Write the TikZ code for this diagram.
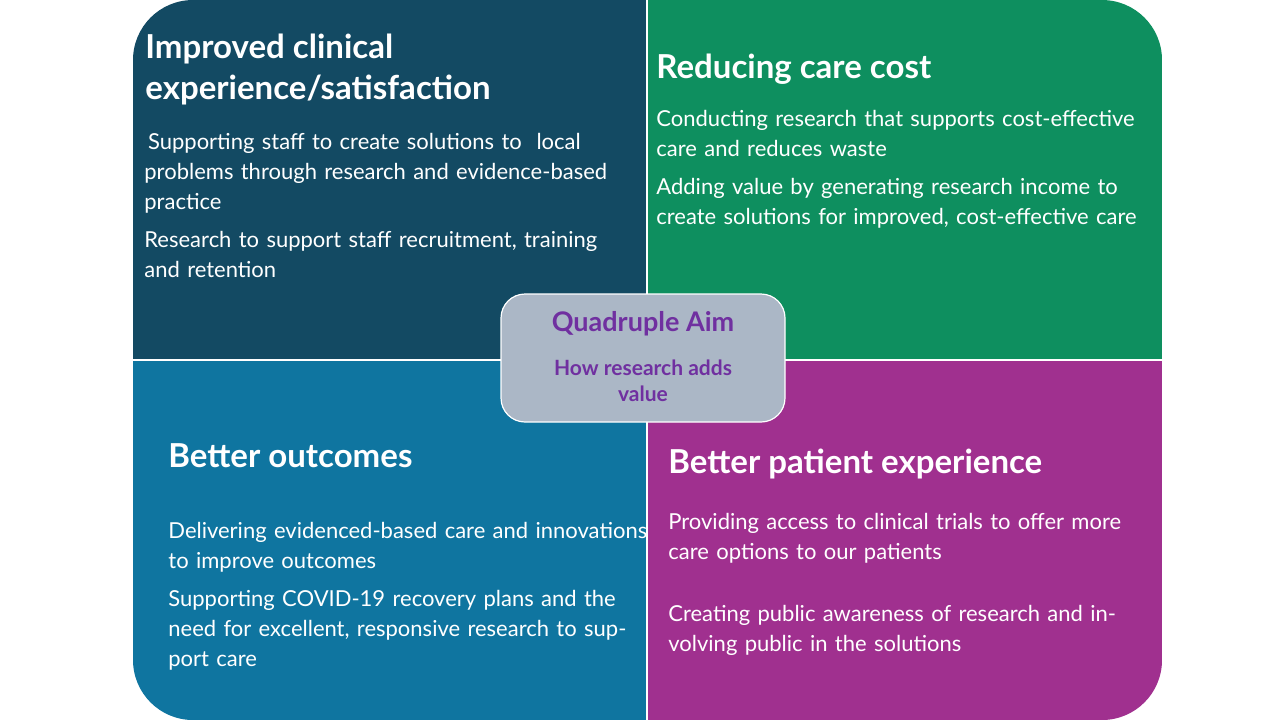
\documentclass[tikz,border=0pt]{standalone}
\usepackage{fontspec}
\setmainfont{Lato}
\begin{document}
\begin{tikzpicture}[x=0.5pt,y=-0.5pt,
  hd/.style={anchor=north west,text=white,font=\fontsize{16.5}{20.5}\selectfont\bfseries,align=left,inner sep=0pt},
  bd/.style={anchor=north west,text=white,font=\fontsize{11}{15}\selectfont,align=left,inner sep=0pt,text width=#1},
  bd/.default=245pt]
\definecolor{cTL}{HTML}{134A63}
\definecolor{cTR}{HTML}{0E8F5F}
\definecolor{cBL}{HTML}{0F75A0}
\definecolor{cBR}{HTML}{A0308F}
\definecolor{cC}{HTML}{ABB7C6}
\definecolor{cP}{HTML}{7030A0}
\useasboundingbox (0,0) rectangle (1280,720);
\begin{scope}
\clip[rounded corners=30pt] (133,0) rectangle (1162,720);
\fill[cTL] (133,0) rectangle (646,359);
\fill[cTR] (648,0) rectangle (1162,359);
\fill[cBL] (133,361) rectangle (646,720);
\fill[cBR] (648,361) rectangle (1162,720);
\end{scope}
\node[hd] (h1) at (145,34) {Improved clinical\\experience/satisfaction};
\node[bd] (b1) at (144,133) {\,Supporting staff to create solutions to \ local problems through research and evidence-based practice\\[4pt]Research to support staff recruitment, training and retention};
\node[hd] (h2) at (656,54) {Reducing care cost};
\node[bd] (b2) at (656,110) {Conducting research that supports cost-effective care and reduces waste\\[4pt]Adding value by generating research income to create solutions for improved, cost-effective care};
\node[hd] (h3) at (168,443) {Better outcomes};
\node[bd] (b3) at (168,522) {Delivering evidenced-based care and innovations to improve outcomes\\[4pt]Supporting COVID-19 recovery plans and the need for excellent, responsive research to support care};
\node[hd] (h4) at (668,449) {Better patient experience};
\node[bd=240pt] (b4) at (668,513) {Providing access to clinical trials to offer more care options to our patients\\[16pt]Creating public awareness of research and involving public in the solutions};
\node[draw=white,line width=0.6pt,fill=cC,rounded corners=12pt,minimum width=142pt,minimum height=64pt] (c) at (643,358) {};
\node[text=cP,font=\fontsize{13.5}{16}\selectfont\bfseries,inner sep=0pt] (q) at (643,324) {Quadruple Aim};
\node[text=cP,font=\fontsize{10.5}{13}\selectfont\bfseries,align=center,inner sep=0pt] (v) at (643,381) {How research adds\\value};
\end{tikzpicture}
\end{document}
